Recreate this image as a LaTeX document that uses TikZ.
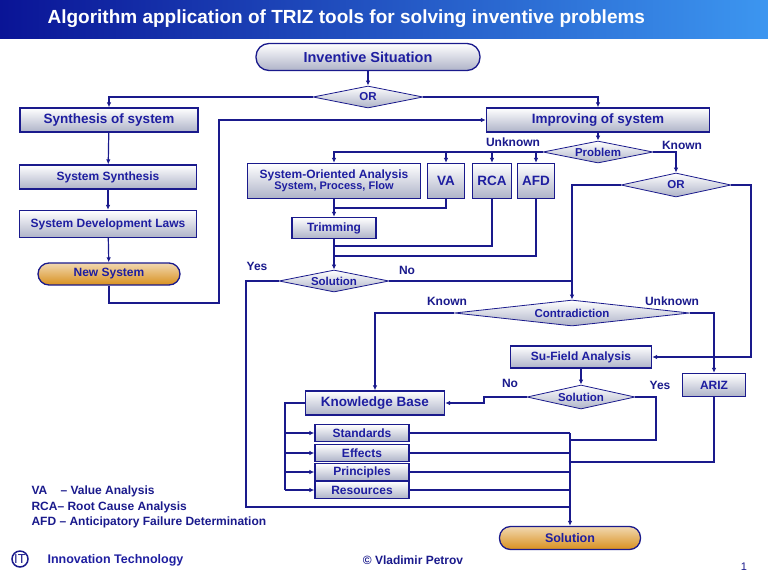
\documentclass[tikz,border=0pt]{standalone}
\usepackage{fontspec}
\setmainfont{Liberation Sans}
\usetikzlibrary{shapes.geometric,arrows.meta}
\definecolor{navy}{HTML}{1A1A8C}
\definecolor{ink}{HTML}{1E1EA0}
\definecolor{boxlo}{HTML}{AEB3C8}
\definecolor{gold}{HTML}{D8901E}
\tikzset{
  box/.style={draw=navy,line width=1.3pt,top color=white,bottom color=boxlo,
    text=ink,font=\bfseries\fontsize{13.5}{15}\selectfont,inner sep=0pt,align=center},
  sbox/.style={box,font=\bfseries\fontsize{12}{13}\selectfont},
  pill/.style={box,rounded corners=11pt},
  dia/.style n args={3}{diamond,draw=navy,line width=0.8pt,top color=white,bottom color=boxlo,
    text=ink,font=\bfseries\fontsize{11.5}{12}\selectfont,inner sep=0pt,
    minimum width=#1pt,minimum height=#2pt,aspect=#3},
  lbl/.style={text=navy,font=\bfseries\fontsize{12}{13}\selectfont},
  line/.style={draw=navy,line width=1.2pt},
  arr/.style={line,-{Latex[length=5pt,width=4.5pt]}}
}
\begin{document}
\begin{tikzpicture}[x=1pt,y=-1pt]
  \useasboundingbox (0,0) rectangle (768,576);
  % title bar
  \shade[left color={rgb,255:red,10;green,20;blue,150},right color={rgb,255:red,60;green,150;blue,240}] (0,0) rectangle (768,38);
  \node[anchor=west,text=white,font=\bfseries\fontsize{19}{21}\selectfont] (title) at (44,19) {Algorithm application of TRIZ tools for solving inventive problems};
  % left branch
  \node[pill,minimum width=224pt,minimum height=27pt,rounded corners=13pt,font=\bfseries\fontsize{14.5}{16}\selectfont] (situ) at (368,57) {Inventive Situation};
  \node[dia={110}{22}{5}] (or1) at (368,97) {OR};
  \node[box,minimum width=178pt,minimum height=24pt] (synth) at (109,120) {Synthesis of system};
  \node[box,minimum width=223pt,minimum height=24pt] (impr) at (598,120) {Improving of system};
  \node[sbox,minimum width=177pt,minimum height=24pt] (ssyn) at (108,177) {System Synthesis};
  \node[sbox,minimum width=177pt,minimum height=27pt] (sdl) at (108,224) {System Development Laws};
  \node[pill,minimum width=142pt,minimum height=22pt,bottom color=gold,top color=gold!35,font=\bfseries\fontsize{12}{13}\selectfont] (newsys) at (109,274) {New System};
  % analysis tools
  \node[dia={110}{22}{5}] (prob) at (598,152) {Problem};
  \node[dia={110}{24}{4.6}] (or2) at (676,185) {OR};
  \node[sbox,minimum width=173pt,minimum height=35pt] (soa) at (334,181) {System-Oriented Analysis\\[-2pt]{\fontsize{11}{12}\selectfont System, Process, Flow}};
  \node[box,minimum width=37pt,minimum height=35pt] (va) at (446,181) {VA};
  \node[box,minimum width=39pt,minimum height=35pt] (rca) at (492,181) {RCA};
  \node[box,minimum width=37pt,minimum height=35pt] (afd) at (536,181) {AFD};
  \node[sbox,minimum width=84pt,minimum height=21pt] (trim) at (334,228) {Trimming};
  \node[dia={110}{22}{5}] (sol1) at (334,281) {Solution};
  % contradiction part
  \node[dia={235}{26}{9}] (contr) at (572,313) {Contradiction};
  \node[sbox,minimum width=141pt,minimum height=22pt] (sufield) at (581,357) {Su-Field Analysis};
  \node[dia={108}{24}{4.5}] (sol2) at (581,397) {Solution};
  \node[box,minimum width=139pt,minimum height=24pt] (kb) at (375,403) {Knowledge Base};
  \node[sbox,minimum width=63pt,minimum height=23pt] (ariz) at (714,385) {ARIZ};
  \node[sbox,minimum width=94pt,minimum height=17pt] (std) at (362,433) {Standards};
  \node[sbox,minimum width=94pt,minimum height=17pt] (eff) at (362,453) {Effects};
  \node[sbox,minimum width=94pt,minimum height=17pt] (pri) at (362,472) {Principles};
  \node[sbox,minimum width=94pt,minimum height=17pt] (res) at (362,490) {Resources};
  \node[pill,minimum width=141pt,minimum height=23pt,bottom color=gold,top color=gold!35,font=\bfseries\fontsize{12.5}{13}\selectfont] (sol) at (570,538) {Solution};
  % branch labels
  \node[lbl] (lunk1) at (513,142) {Unknown};
  \node[lbl] (lkn1) at (682,145) {Known};
  \node[lbl] (lyes1) at (257,266) {Yes};
  \node[lbl] (lno1) at (407,270) {No};
  \node[lbl] (lkn2) at (447,301) {Known};
  \node[lbl] (lunk2) at (672,301) {Unknown};
  \node[lbl] (lno2) at (510,383) {No};
  \node[lbl] (lyes2) at (660,385) {Yes};
  % connectors
  \draw[arr] (situ) -- (or1);
  \draw[arr] (or1.west) -| (synth.north);
  \draw[arr] (or1.east) -| (impr.north);
  \draw[arr] (synth) -- (ssyn);
  \draw[arr] (ssyn) -- (sdl);
  \draw[arr] (sdl) -- (newsys);
  \draw[arr] (newsys.south) |- (219,303) |- (impr.west);
  \draw[arr] (impr) -- (prob);
  \draw[arr] (prob.west) -| (soa.north);
  \foreach \t in {va,rca,afd} {\draw[arr] (prob.west) -| (\t.north);}
  \draw[arr] (prob.east) -| (or2.north);
  \draw[arr] (soa) -- (trim);
  \draw[line] (va.south) |- (334,208);
  \draw[arr] (trim) -- (sol1);
  \draw[line] (rca.south) |- (334,246);
  \draw[line] (afd.south) |- (334,256);
  \draw[line] (sol1.east) -- (572,281);
  \draw[arr] (or2.west) -| (contr.north);
  \draw[line] (sol1.west) -| (246,507) -- (570,507);
  \draw[arr] (contr.west) -| (kb.north);
  \draw[arr] (contr.east) -| (ariz.north);
  \draw[arr] (or2.east) -| (751,357) -- (sufield.east);
  \draw[arr] (sufield) -- (sol2);
  \draw[arr] (sol2.west) -| (484,403) -- (kb.east);
  \draw[line] (sol2.east) -| (656,440) -- (570,440);
  \draw[line] (ariz.south) |- (570,462);
  \draw[line] (kb.west) -| (285,490);
  \foreach \t in {std,eff,pri,res} {\draw[arr] (285,0 |- \t) -- (\t.west);}
  \foreach \t in {std,eff,pri,res} {\draw[line] (\t.east) -- (570,0 |- \t);}
  \draw[arr] (570,433) -- (sol.north);
  % legend and footer
  \node[lbl,anchor=west,align=left,font=\bfseries\fontsize{12}{15.5}\selectfont] (legend) at (28,507) {VA\hspace{1.1em}-- Value Analysis\\RCA-- Root Cause Analysis\\AFD -- Anticipatory Failure Determination};
  \node[draw=navy,circle,line width=1.5pt,inner sep=0.5pt,text=navy,font=\fontsize{13}{14}\selectfont] (logo) at (20,559) {IT};
  \node[anchor=west,text=ink,font=\bfseries\fontsize{12.5}{13}\selectfont] (firm) at (44,560) {Innovation Technology};
  \node[lbl] (copy) at (413,560) {© Vladimir Petrov};
  \node[text=navy,font=\fontsize{11}{12}\selectfont] (page) at (744,567) {1};
\end{tikzpicture}
\end{document}
